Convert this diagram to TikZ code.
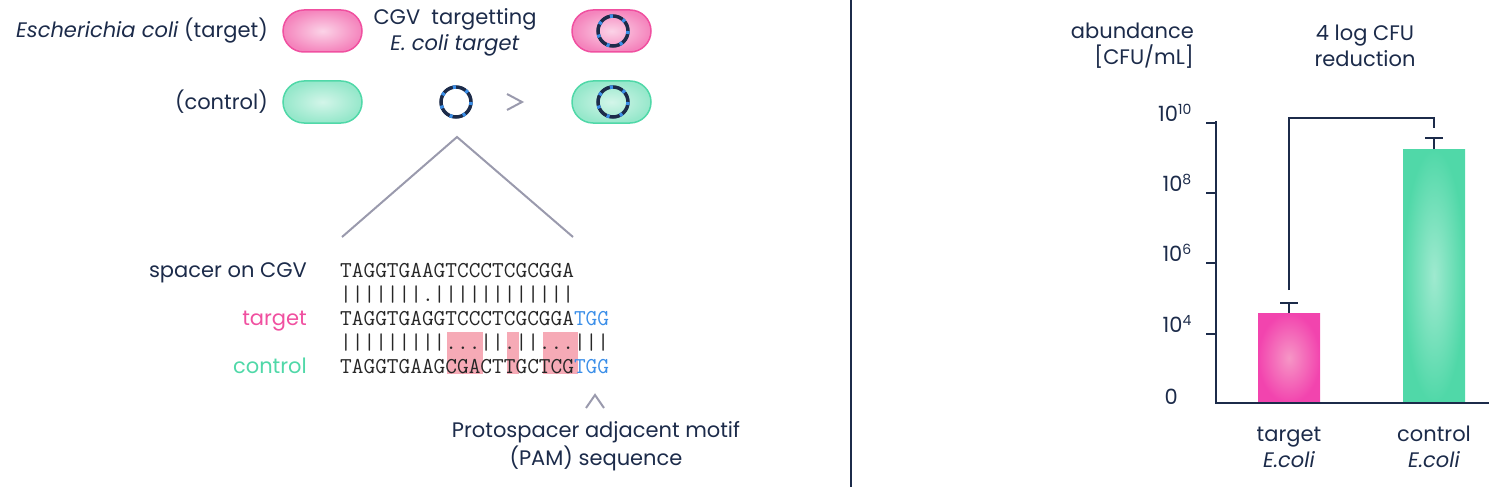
\documentclass[tikz,border=0pt]{standalone}
\usepackage{fontspec}
\setmainfont{Poppins}
\definecolor{navy}{HTML}{1C2B4A}
\definecolor{pk}{HTML}{F050A0}
\definecolor{gr}{HTML}{50D8A8}
\definecolor{bl}{HTML}{3A8EE8}
\definecolor{gy}{HTML}{9A9AAD}
\definecolor{sh}{HTML}{F6AAB6}
\begin{document}
\begin{tikzpicture}[x=1pt,y=-1pt,
 lbl/.style={font=\fontsize{21}{24}\selectfont,text=navy,inner sep=0},
 seq/.style={font=\ttfamily\fontsize{22.7}{24}\selectfont,text=black!85,anchor=base west,inner sep=0},
 pcell/.style={rounded corners=21,draw=pk,line width=1.5,inner color=pk!25,outer color=pk!70},
 gcell/.style={rounded corners=21,draw=gr,line width=1.5,inner color=gr!25,outer color=gr!60},
 ax/.style={navy,line width=2},
 tri/.style={gy,line width=2}]
\useasboundingbox (0,0) rectangle (1500,487);
% divider
\draw[navy,line width=1.5] (851,0) -- (851,487);
% cells
\path[pcell] (283,10) rectangle (362,52);
\path[gcell] (283,81) rectangle (362,123);
\path[pcell] (572,10) rectangle (651,52);
\path[gcell] (572,81) rectangle (651,123);
\foreach \n/\x/\y in {c1/456/102,c2/613/31,c3/613/102}{
 \node[circle,minimum size=30,inner sep=0] (\n) at (\x,\y) {};
 \draw[navy,line width=3.5] (\x,\y) circle (15);
 \draw[bl,line width=3.5,dash pattern=on 3 off 10.5] (\x,\y) circle (15);
}
\node[lbl,anchor=east] (l1) at (268,31) {\textit{Escherichia coli} (target)};
\node[lbl,anchor=east] (l2) at (268,102) {(control)};
\node[lbl,align=center] (cgv) at (455,32) {CGV\ \ targetting\\[2pt]\textit{E. coli target}};
\coordinate (g1) at (507,94);
\coordinate (g2) at (522,102);
\coordinate (g3) at (507,110);
\draw[tri] (g1) -- (g2) -- (g3);
% triangle
\coordinate (apex) at (457,137);
\coordinate (tl) at (342,237);
\coordinate (tr) at (573,237);
\draw[tri] (tl) -- (apex) -- (tr);
% shading
\fill[sh] (447,332) rectangle (483,374);
\fill[sh] (507,332) rectangle (519,374);
\fill[sh] (543,332) rectangle (578,374);
% sequences
\node[seq] (s1) at (340,277) {TAGGTGAAGTCCCTCGCGGA};
\node[seq] (s2) at (340,301) {|||||||.||||||||||||};
\node[seq] (s3) at (340,325) {TAGGTGAGGTCCCTCGCGGA\textcolor{bl}{TGG}};
\node[seq] (s4) at (340,349) {|||||||||...||.||...|||};
\node[seq] (s5) at (340,373) {TAGGTGAAGCGACTTGCTCG\textcolor{bl}{TGG}};
\node[lbl,anchor=base east] (n1) at (307,277) {spacer on CGV};
\node[lbl,anchor=base east,text=pk] (n2) at (307,325) {target};
\node[lbl,anchor=base east,text=gr] (n3) at (307,373) {control};
% PAM
\coordinate (pa) at (586,408);
\coordinate (pb) at (595,395);
\coordinate (pc) at (604,408);
\draw[tri] (pa) -- (pb) -- (pc);
\node[lbl,align=center] (pam) at (596,446) {Protospacer adjacent motif\\[2pt](PAM) sequence};
% chart
\node[lbl,align=right,anchor=east] (yl) at (1194,46) {abundance\\[2pt]\,[CFU/mL]};
\node[lbl,align=center] (red) at (1365,46) {4 log CFU\\[2pt]reduction};
\path[shade,inner color=pk!60,outer color=pk!85!magenta] (1258,313) rectangle (1320,403);
\path[shade,inner color=gr!55,outer color=gr] (1403,149) rectangle (1465,403);
\draw[ax] (1216,121) -- (1216,403) -- (1489,403);
\foreach \y/\e in {123/10,193/8,263/6,334/4}{
 \draw[ax] (1206,\y) -- (1216,\y);
 \node[lbl,anchor=east] at (1192,\y-10) {10\textsuperscript{\fontsize{14}{14}\selectfont\e}};
}
\node[lbl,anchor=east] (z) at (1178,397) {0};
\draw[ax] (1289,313) -- (1289,303) (1280,303) -- (1298,303);
\draw[ax] (1434,149) -- (1434,138) (1425,138) -- (1443,138);
\draw[ax] (1289,290) -- (1289,118) -- (1434,118) -- (1434,128);
\node[lbl,align=center] (xa) at (1289,447) {target\\[2pt]\textit{E.coli}};
\node[lbl,align=center] (xb) at (1434,447) {control\\[2pt]\textit{E.coli}};
\end{tikzpicture}
\end{document}
